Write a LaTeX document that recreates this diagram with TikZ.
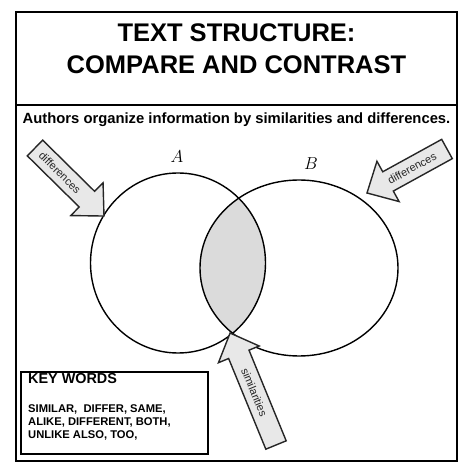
\documentclass[tikz,border=0pt]{standalone}
\usepackage{fontspec}
\setmainfont{Liberation Sans}
\begin{document}
\begin{tikzpicture}[x=1pt,y=1pt,
  frame/.style={draw=black, line width=1.5pt},
  ring/.style={draw=black, line width=1.4pt},
  blockarrow/.style={draw=black!85, line width=1.4pt, fill=black!9, line join=miter},
  arrowtext/.style={font=\fontsize{11}{13}\selectfont, text=black!85, inner sep=0pt},
  titletext/.style={font=\fontsize{25.5}{32}\selectfont\bfseries, inner sep=0pt, align=center},
]
\useasboundingbox[fill=white] (0,0) rectangle (474,474);
% outer frame and divider
\draw[frame] (16,13) rectangle (457,462);
\coordinate (divL) at (16,369);
\coordinate (divR) at (457,369);
\draw[frame] (divL) -- (divR);
% titles
\node[titletext, anchor=base] (t1) at (236.5,432) {TEXT STRUCTURE:};
\node[titletext, anchor=base] (t2) at (236.5,400) {COMPARE AND CONTRAST};
\node[font=\fontsize{14.8}{17}\selectfont\bfseries, inner sep=0pt, anchor=base] (sub) at (236.5,350)
  {Authors organize information by similarities and differences.};
% Venn
\coordinate (cA) at (178,211);
\coordinate (cB) at (299,206);
\begin{scope}
  \clip (cA) ellipse [x radius=87.5, y radius=90];
  \fill[black!14] (cB) ellipse [x radius=99, y radius=88];
\end{scope}
\draw[ring] (cA) ellipse [x radius=87.5, y radius=90];
\draw[ring] (cB) ellipse [x radius=99, y radius=88];
\node[font=\fontsize{16}{18}\selectfont] (lA) at (177,317) {$A$};
\node[font=\fontsize{16}{18}\selectfont] (lB) at (311,310) {$B$};
% left arrow
\begin{scope}[shift={(35,326)}, rotate=-44.6]
  \draw[blockarrow] (0,11) -- (72.9,11) -- (72.9,23) -- (96.9,0) -- (72.9,-23) -- (72.9,-11) -- (0,-11) -- cycle;
  \node[arrowtext, rotate=-44.6] (dl) at (35,0) {differences};
\end{scope}
% right arrow
\begin{scope}[shift={(447,325)}, rotate=208.8]
  \draw[blockarrow] (0,11) -- (67.3,11) -- (67.3,23) -- (91.3,0) -- (67.3,-23) -- (67.3,-11) -- (0,-11) -- cycle;
  \node[arrowtext, rotate=28.8] (dr) at (40,0) {differences};
\end{scope}
% bottom arrow
\begin{scope}[shift={(276,29)}, rotate=112.3]
  \draw[blockarrow] (0,11) -- (98,11) -- (98,22) -- (121,0) -- (98,-22) -- (98,-11) -- (0,-11) -- cycle;
  \node[arrowtext, rotate=-67.7] (sm) at (57,0) {similarities};
\end{scope}
% key words box
\draw[draw=black, line width=1.3pt] (21,20) rectangle (208,102);
\node[font=\fontsize{14.4}{16}\selectfont\bfseries, inner sep=0pt, anchor=base west] (kw) at (28,90) {KEY WORDS};
\node[font=\fontsize{11.2}{13.3}\selectfont\bfseries, inner sep=0pt, anchor=base west] (kw1) at (28,61.3) {SIMILAR,\ \ DIFFER, SAME,};
\node[font=\fontsize{11.2}{13.3}\selectfont\bfseries, inner sep=0pt, anchor=base west] (kw2) at (28,48) {ALIKE, DIFFERENT, BOTH,};
\node[font=\fontsize{11.2}{13.3}\selectfont\bfseries, inner sep=0pt, anchor=base west] (kw3) at (28,35) {UNLIKE ALSO, TOO,};
\end{tikzpicture}
\end{document}
